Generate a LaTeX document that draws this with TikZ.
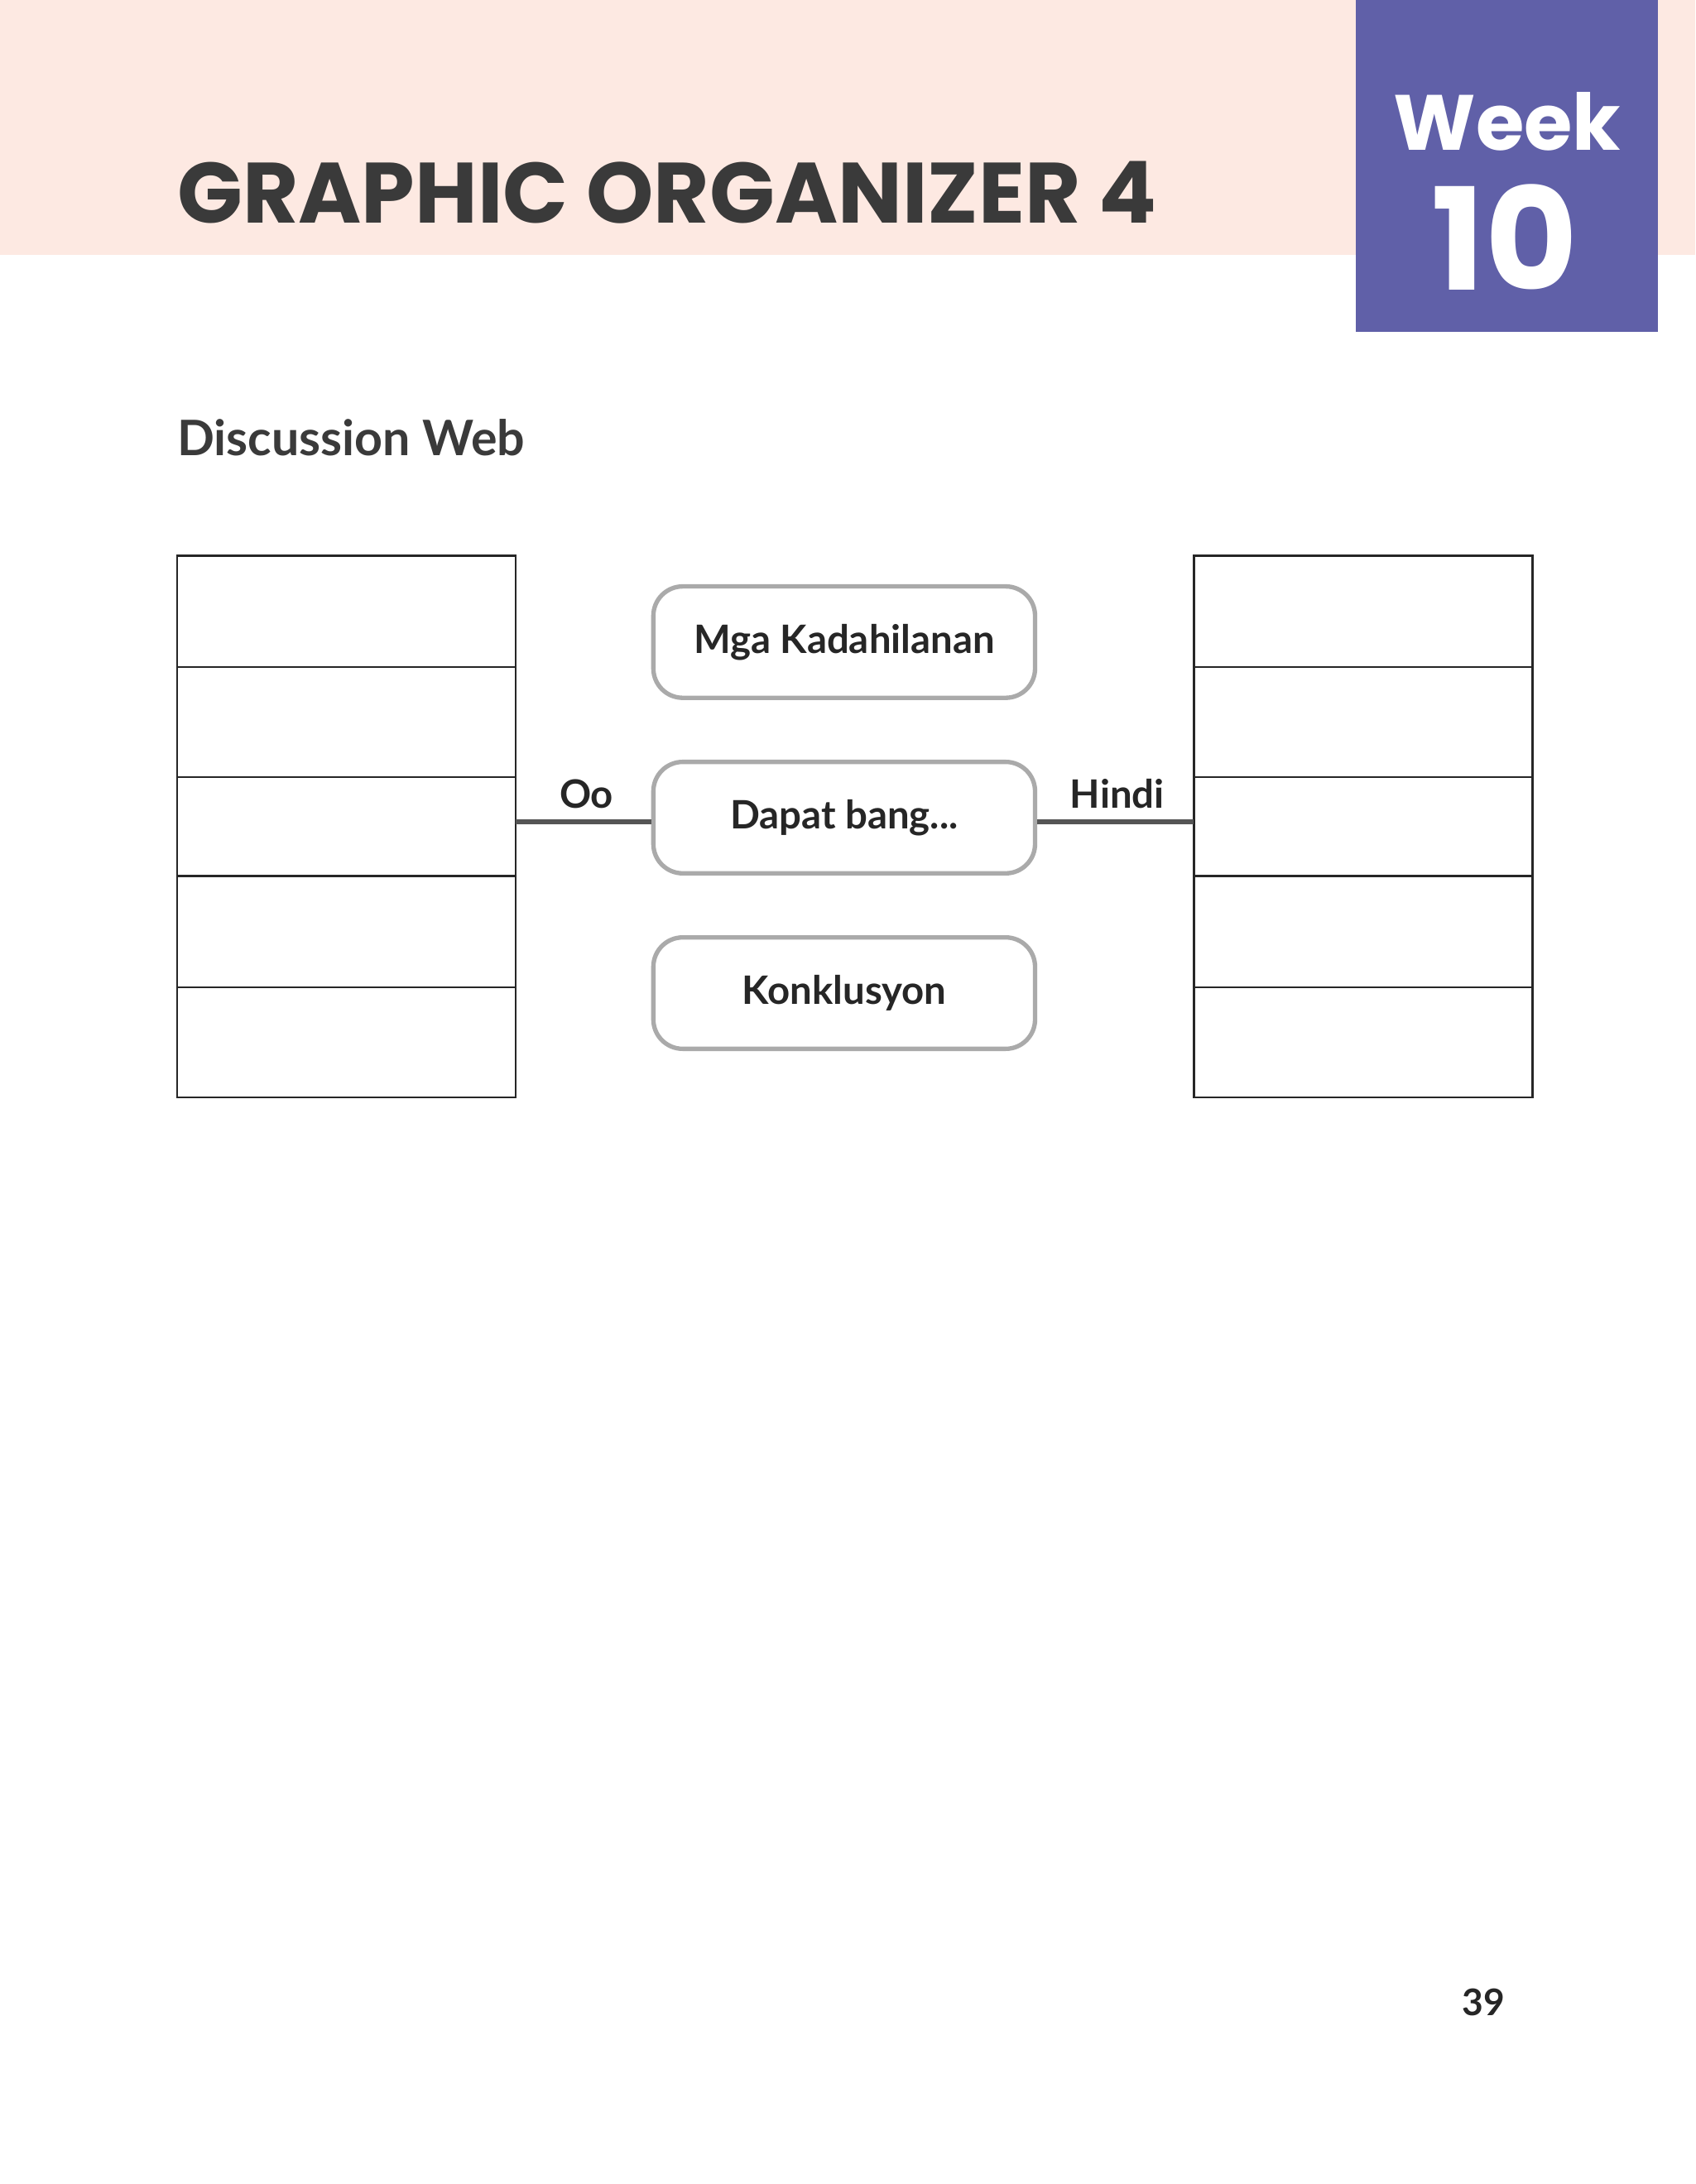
\documentclass[tikz,border=0pt]{standalone}
\usepackage{fontspec}
\setmainfont{Lato}
\newfontfamily\titlefont{Poppins}
\definecolor{pinkbg}{HTML}{FDE9E2}
\definecolor{purp}{HTML}{6060A8}
\definecolor{txt}{HTML}{3A3A3A}
\definecolor{boxgray}{HTML}{AAAAAA}
\definecolor{linegray}{HTML}{555555}
\begin{document}
\begin{tikzpicture}[x=0.02cm,y=-0.02cm,
  cell/.style={draw=black!85,line width=0.8pt,minimum width=243*0.02cm,inner sep=0pt,outer sep=0pt},
  qbox/.style={draw=boxgray,line width=1.8pt,rounded corners=12pt,minimum width=274*0.02cm,minimum height=80*0.02cm,font=\bfseries\fontsize{16}{18}\selectfont,text=black!85},
  lbl/.style={font=\bfseries\fontsize{16}{18}\selectfont,text=black!85,anchor=base},
  conn/.style={draw=linegray,line width=1.8pt}]
\useasboundingbox (0,0) rectangle (1217,1568);
\fill[pinkbg] (0,0) rectangle (1217,183);
\fill[purp] (973,0) rectangle (1190,238);
\node[anchor=base,text=white,font=\titlefont\bfseries\fontsize{32}{36}\selectfont] (week) at (1082,108) {Week};
\node[anchor=base,text=white,font=\titlefont\bfseries\fontsize{58}{62}\selectfont] (ten) at (1080,208) {10};
\node[anchor=base west,inner sep=0pt,text=txt,font=\titlefont\bfseries\fontsize{35}{40}\selectfont] (title) at (127,160) {GRAPHIC ORGANIZER 4};
\node[anchor=base west,inner sep=0pt,text=txt,font=\bfseries\fontsize{20}{24}\selectfont] (dw) at (127,327) {Discussion Web};
% tables
\foreach \x/\n in {127/L,857/R}{
  \draw[line width=0.8pt,black!85] (\x,399) rectangle (\x+243,788);
  \foreach \yy in {479,558,629,709} \draw[line width=0.8pt,black!85] (\x,\yy) -- (\x+243,\yy);
  \coordinate (\n w) at (\x,590);
  \coordinate (\n e) at (\x+243,590);
}
\node[qbox] (q1) at (606,461) {Mga Kadahilanan};
\node[qbox] (q2) at (606,587) {Dapat bang...};
\node[qbox] (q3) at (606,713) {Konklusyon};
\draw[conn] (Le) -- (q2.west |- Le);
\draw[conn] (q2.east |- Re) -- (Rw);
\node[lbl] (oo) at (421,580) {Oo};
\node[lbl] (hindi) at (802,580) {Hindi};
\node[lbl,font=\bfseries\fontsize{15}{18}\selectfont] (pg) at (1065,1447) {39};
\end{tikzpicture}
\end{document}
